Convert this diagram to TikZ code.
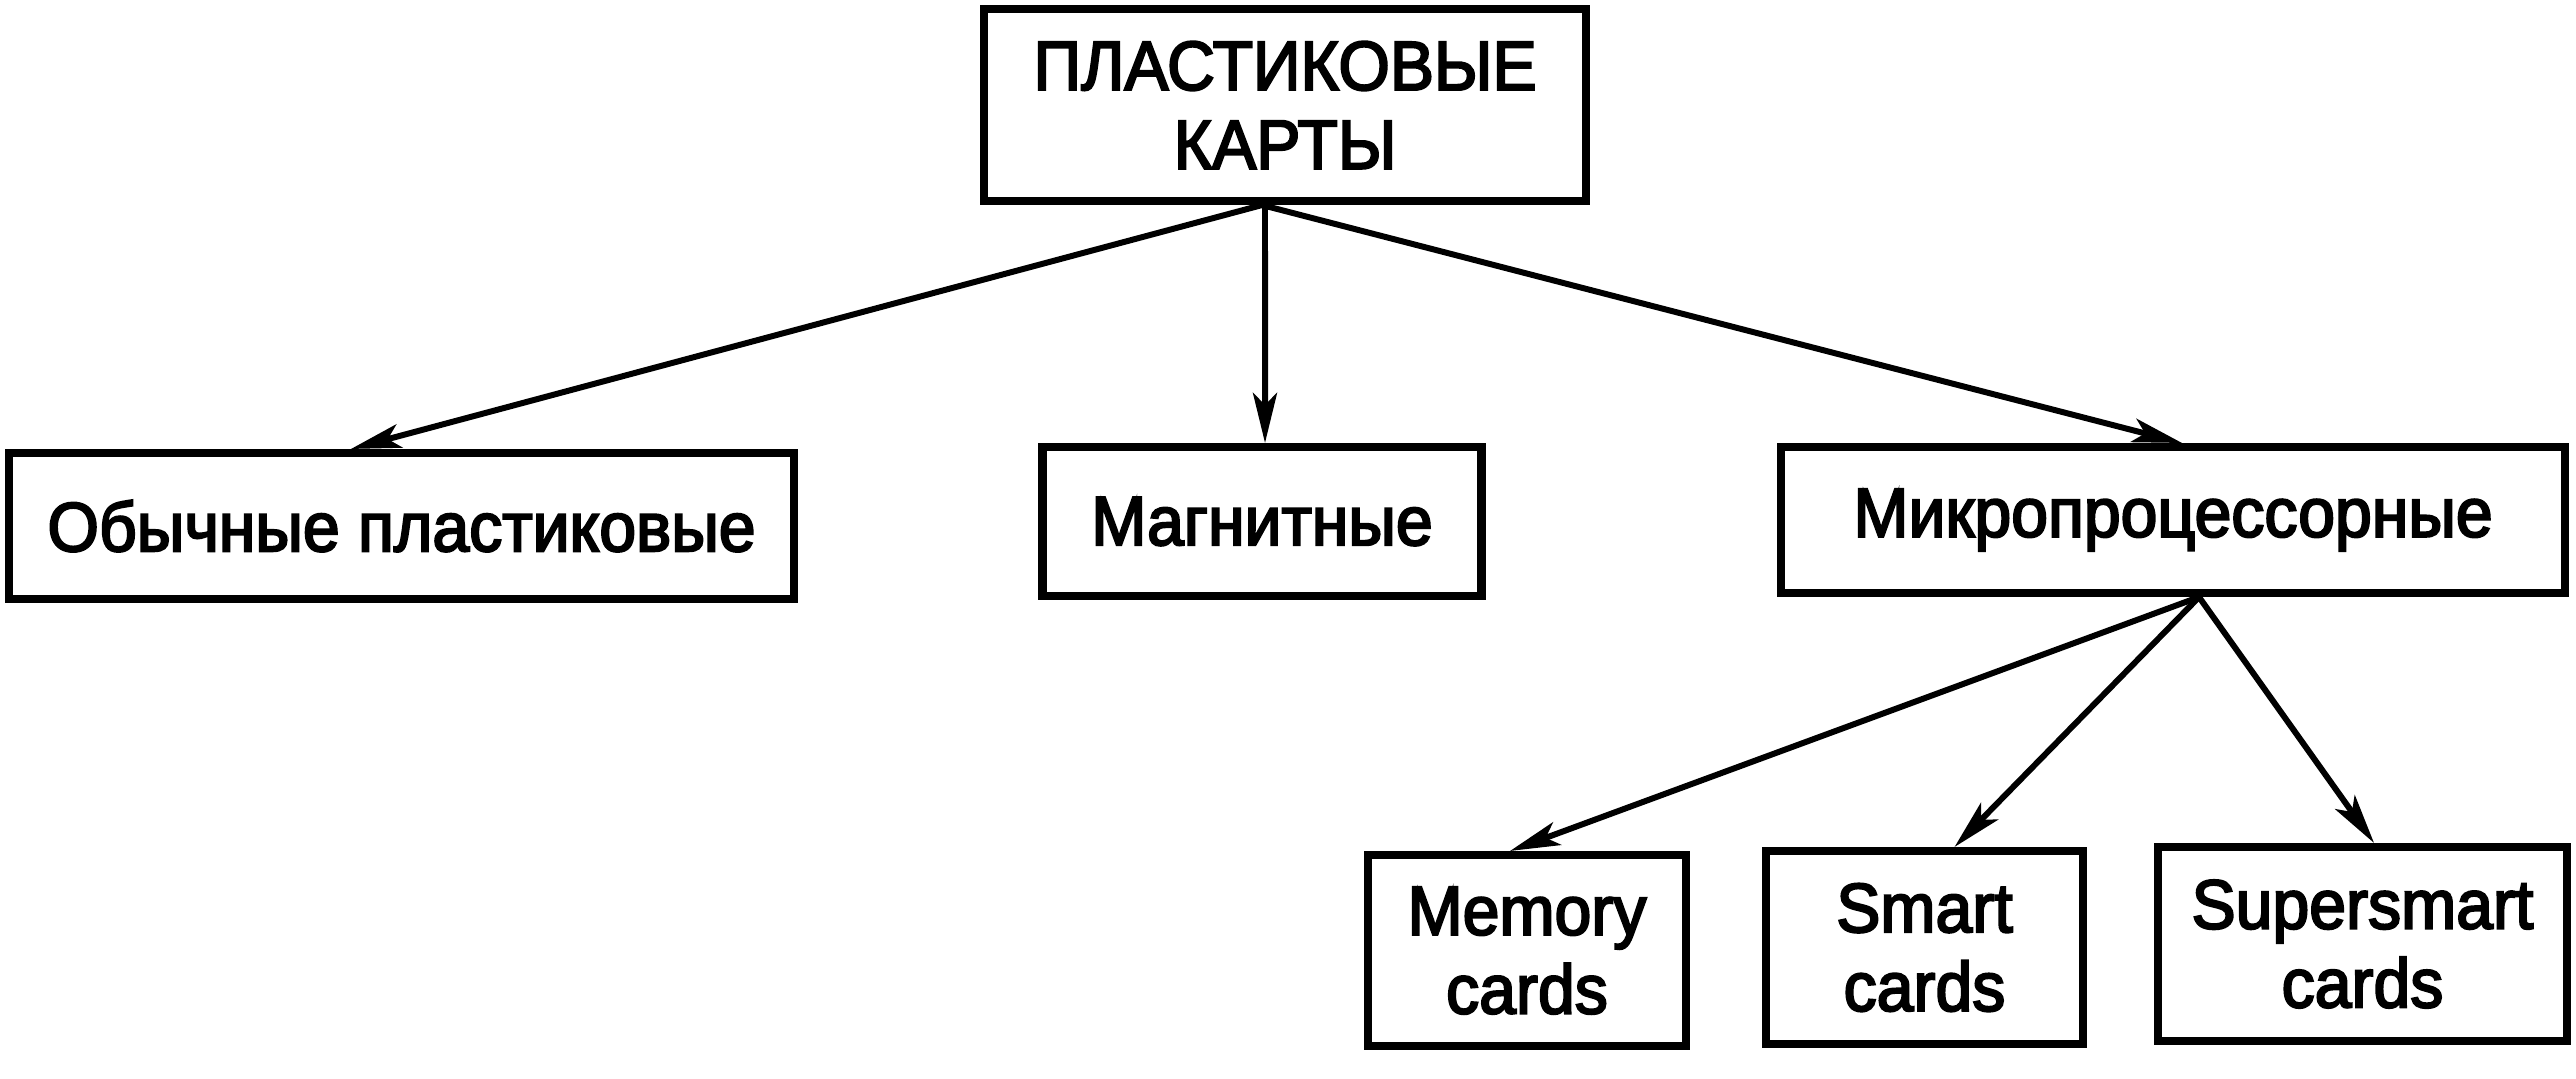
\documentclass[tikz,border=0pt]{standalone}
\usepackage{fontspec}
\setmainfont{Liberation Sans}[FakeStretch=0.95,FakeBold=3]
\usetikzlibrary{arrows.meta}
\begin{document}
\begin{tikzpicture}[x=0.01cm,y=-0.01cm,
  box/.style={draw, line width=2.3pt, inner sep=0pt, align=center,
    font=\fontsize{19.8}{22.4}\selectfont},
  conn/.style={line width=1.7pt, -{Stealth[length=0.5cm,width=0.24cm,inset=0.12cm]}}]
\fill[white] (0,0) rectangle (2576,1078);
\useasboundingbox (0,0) rectangle (2576,1078);
\node[box, minimum width=602*0.01cm, minimum height=192*0.01cm] (top) at (1285,105) {ПЛАСТИКОВЫЕ\\КАРТЫ};
\node[box, minimum width=785*0.01cm, minimum height=146*0.01cm] (ob) at (401.5,526) {Обычные пластиковые};
\node[box, minimum width=439*0.01cm, minimum height=149*0.01cm] (mag) at (1262,521.5) {Магнитные};
\node[box, minimum width=784*0.01cm, minimum height=146*0.01cm] (mic) at (2173,520) {Микропроцессорные};
\node[box, minimum width=318*0.01cm, minimum height=191*0.01cm] (mem) at (1527,950.5) {Memory\\cards};
\node[box, minimum width=317*0.01cm, minimum height=193*0.01cm] (sm) at (1924.5,947.5) {Smart\\cards};
\node[box, minimum width=409*0.01cm, minimum height=194*0.01cm] (sup) at (2362.5,944) {Supersmart\\cards};
\draw[conn] ([xshift=-0.23cm]top.south) -- ([xshift=-0.505cm]ob.north);
\draw[conn] ([xshift=-0.2cm]top.south) -- ([xshift=0.03cm]mag.north);
\draw[conn] ([xshift=-0.23cm]top.south) -- ([xshift=0.09cm]mic.north);
\draw[conn] ([xshift=0.26cm]mic.south) -- ([xshift=-0.17cm]mem.north);
\draw[conn] ([xshift=0.26cm]mic.south) -- ([xshift=0.3cm]sm.north);
\draw[conn] ([xshift=0.26cm]mic.south) -- ([xshift=0.115cm]sup.north);
\end{tikzpicture}
\end{document}
